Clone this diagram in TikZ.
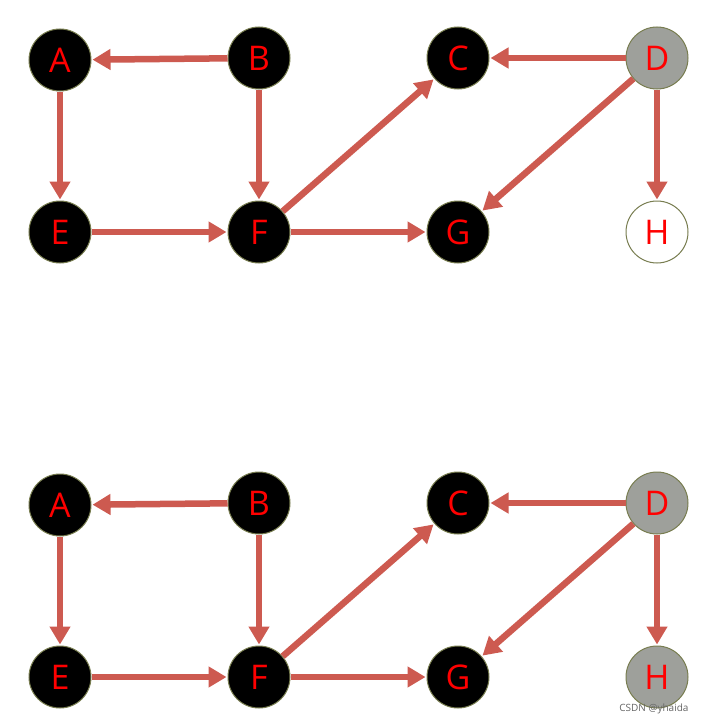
\documentclass[tikz,border=0pt]{standalone}
\usepackage{fontspec}
\setmainfont{Open Sans}
\usetikzlibrary{arrows.meta}
\definecolor{edgec}{RGB}{205,90,80}
\definecolor{rimc}{RGB}{120,125,80}
\definecolor{greyc}{RGB}{158,160,155}
\begin{document}
\begin{tikzpicture}[x=1pt,y=-1pt,
  vx/.style={circle,draw=rimc,line width=1pt,minimum size=62pt,inner sep=0pt,fill=black,text=red,font=\fontsize{34}{34}\selectfont},
  grey/.style={fill=greyc},
  white/.style={fill=white},
  ed/.style={edgec,line width=6.5pt,-{Triangle[width=20pt,length=18pt]},shorten >=1pt}]
\useasboundingbox (0,0) rectangle (705,725);
\fill[white] (0,0) rectangle (705,725);
\foreach \s/\y/\hs in {t/0/white,b/445/grey}{
  \node[vx] (A\s) at (60,60+\y) {A};
  \node[vx] (B\s) at (259,58+\y) {B};
  \node[vx] (C\s) at (458,58+\y) {C};
  \node[vx,grey] (D\s) at (657,58+\y) {D};
  \node[vx] (E\s) at (60,232+\y) {E};
  \node[vx] (F\s) at (259,232+\y) {F};
  \node[vx] (G\s) at (458,232+\y) {G};
  \node[vx,\hs] (H\s) at (657,232+\y) {H};
  \draw[ed] (B\s) -- (A\s);
  \draw[ed] (A\s) -- (E\s);
  \draw[ed] (B\s) -- (F\s);
  \draw[ed] (E\s) -- (F\s);
  \draw[ed] (F\s) -- (C\s);
  \draw[ed] (F\s) -- (G\s);
  \draw[ed] (D\s) -- (C\s);
  \draw[ed] (D\s) -- (G\s);
  \draw[ed] (D\s) -- (H\s);
}
\node[font=\fontsize{10}{10}\selectfont,text=black!60,anchor=east] (wm) at (692,709) {CSDN @yhaida};
\end{tikzpicture}
\end{document}
